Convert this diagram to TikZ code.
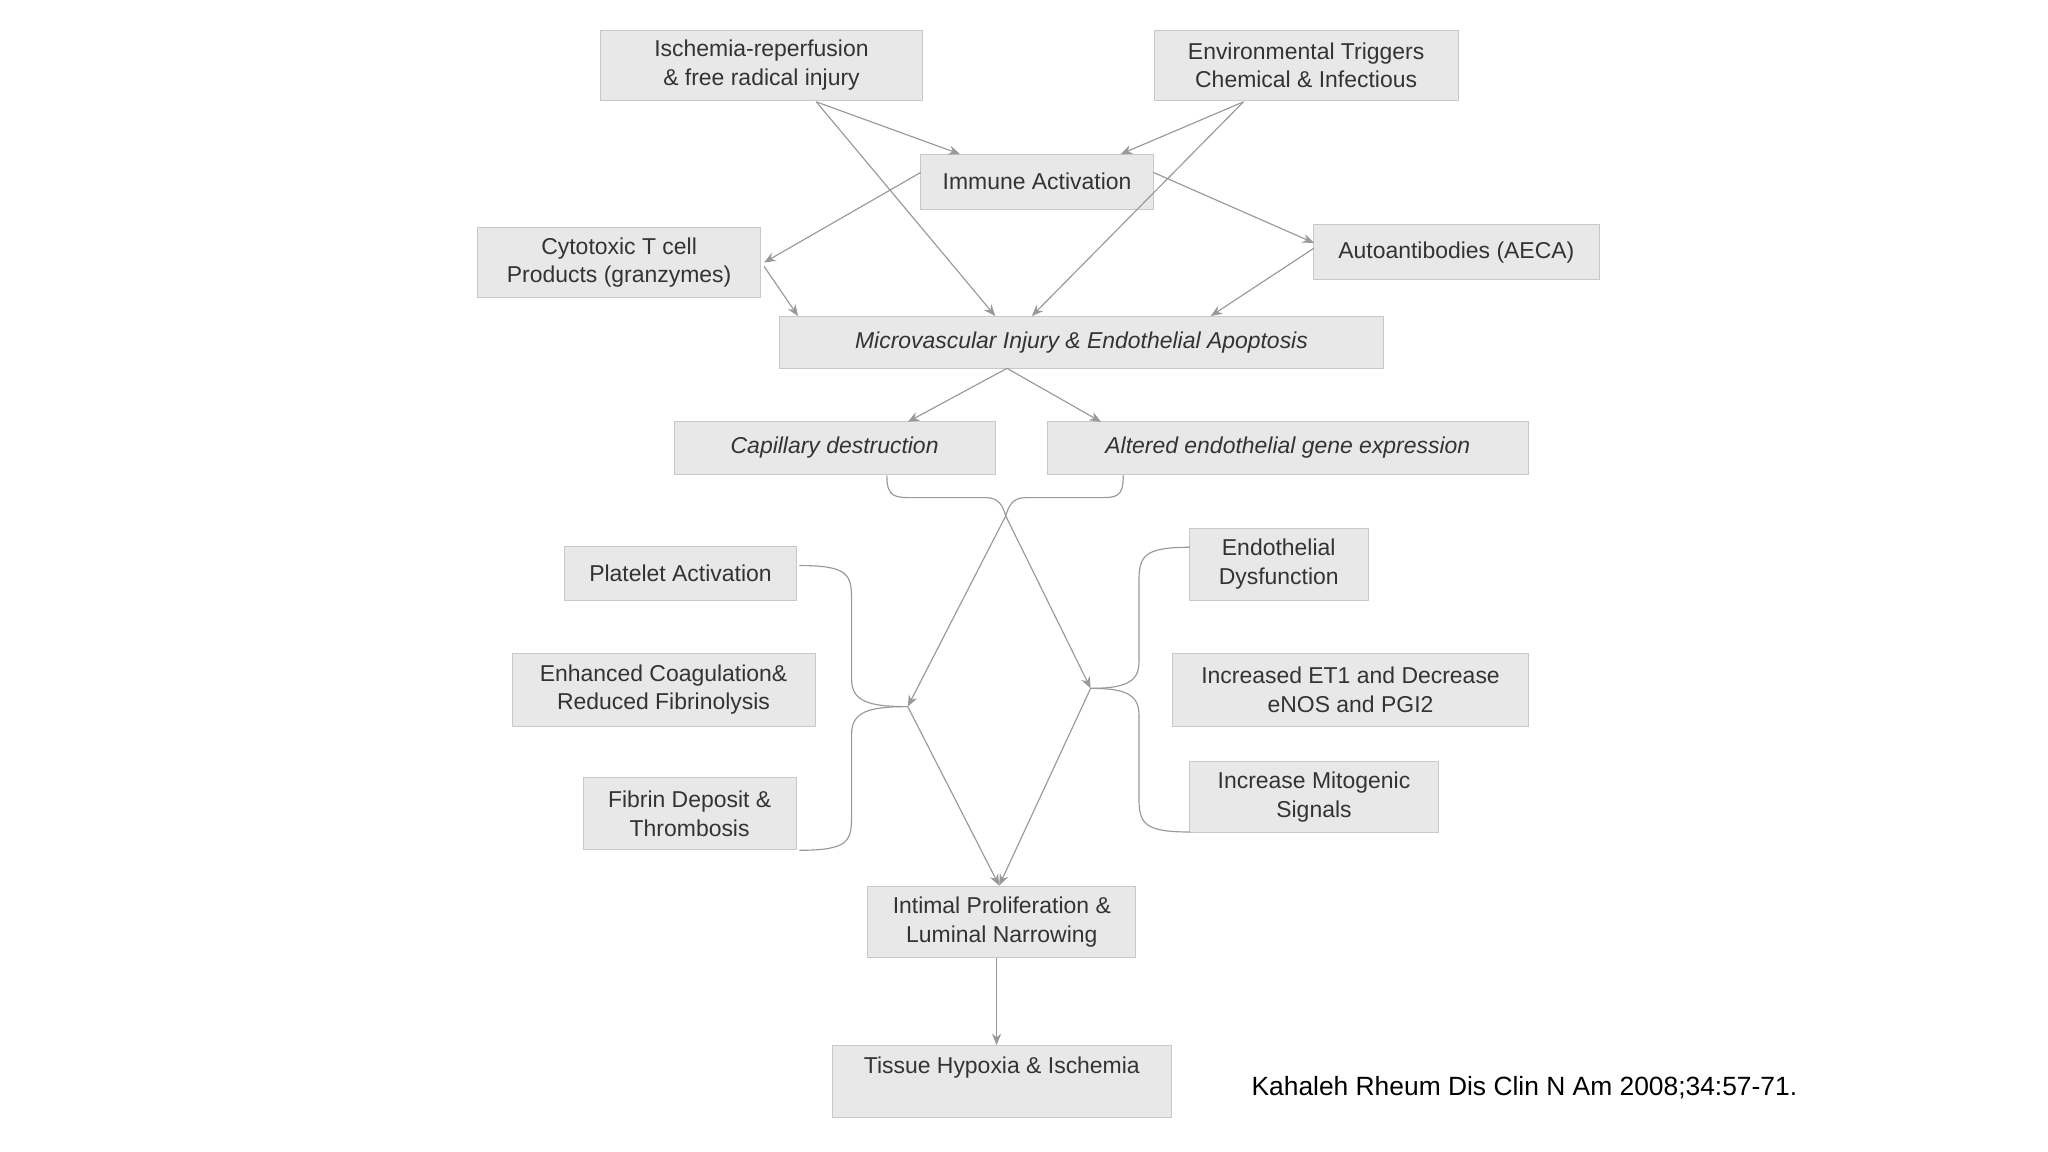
\documentclass[tikz,border=0pt]{standalone}
\usepackage{fontspec}
\setmainfont{Liberation Sans}
\usetikzlibrary{arrows.meta}
\definecolor{bfill}{HTML}{E8E8E8}
\definecolor{bline}{HTML}{C8C8C8}
\definecolor{txt}{HTML}{333333}
\definecolor{ln}{HTML}{999999}
\begin{document}
\begin{tikzpicture}[x=0.02cm,y=-0.02cm,
  box/.style={draw=bline,fill=bfill,align=center,inner sep=0pt,text=txt,font=\fontsize{10}{12.5}\selectfont},
  arr/.style={draw=ln,line width=0.5pt,-{Stealth[length=5pt,width=4pt]}},
  cn/.style={draw=ln,line width=0.5pt}]
\useasboundingbox (0,0) rectangle (1568,882);
\fill[white] (0,0) rectangle (1568,882);
\newcommand{\bx}[7]{\node[box,minimum width=#4*0.02cm,minimum height=#5*0.02cm,#6] (#1) at (#2,#3) {#7};}
\bx{isch}{583}{50}{246}{54}{}{Ischemia-reperfusion\\ \& free radical injury}
\bx{env}{1000}{50}{233}{54}{}{Environmental Triggers\\ Chemical \& Infectious}
\bx{imm}{794}{139}{178}{42}{}{Immune Activation}
\bx{cyto}{474}{201}{217}{54}{}{Cytotoxic T cell\\ Products (granzymes)}
\bx{auto}{1115}{193}{219}{42}{}{Autoantibodies (AECA)}
\bx{micro}{828}{262}{463}{40}{font=\fontsize{10}{12.5}\selectfont\itshape}{Microvascular Injury \& Endothelial Apoptosis}
\bx{cap}{639}{343}{246}{41}{font=\fontsize{10}{12.5}\selectfont\itshape}{Capillary destruction}
\bx{alt}{986}{343}{368}{41}{font=\fontsize{10}{12.5}\selectfont\itshape}{Altered endothelial gene expression}
\bx{plat}{521}{439}{178}{41}{}{Platelet Activation}
\bx{enh}{508}{528}{232}{56}{}{Enhanced Coagulation\&\\ Reduced Fibrinolysis}
\bx{fib}{528}{623}{163}{55}{}{Fibrin Deposit \&\\ Thrombosis}
\bx{endo}{979}{432}{137}{55}{}{Endothelial\\ Dysfunction}
\bx{inc}{1034}{528}{273}{56}{}{Increased ET1 and Decrease\\ eNOS and PGI2}
\bx{mito}{1006}{610}{191}{54}{}{Increase Mitogenic\\ Signals}
\bx{intim}{767}{706}{205}{54}{}{Intimal Proliferation \&\\ Luminal Narrowing}
\bx{tis}{767}{828}{260}{55}{}{}
\node[text=txt,font=\fontsize{10}{12.5}\selectfont] (tist) at (767,817) {Tissue Hypoxia \& Ischemia};
\node[font=\fontsize{11.5}{14}\selectfont,anchor=west] (cite) at (952,833) {Kahaleh Rheum Dis Clin N Am 2008;34:57-71.};
% coordinates
\coordinate (is) at (625,78); \coordinate (es) at (952,78);
\coordinate (i1) at (735,118); \coordinate (i2) at (858,118);
\coordinate (m1) at (762,242); \coordinate (m2) at (790,242);
\coordinate (iw) at (705,132); \coordinate (ie) at (883,132);
\coordinate (ce) at (585,201); \coordinate (ae) at (1006,186);
\coordinate (cs) at (585,204); \coordinate (mc) at (611,242);
\coordinate (as) at (1006,190); \coordinate (ma) at (927,242);
\coordinate (ms) at (771,282); \coordinate (cn1) at (695,323); \coordinate (an1) at (843,323);
\coordinate (bt) at (770,395); \coordinate (lt) at (695,541); \coordinate (rt) at (835,527);
\coordinate (it) at (765,678);
\draw[arr] (is) -- (i1); \draw[arr] (is) -- (m1);
\draw[arr] (es) -- (i2); \draw[arr] (es) -- (m2);
\draw[arr] (iw) -- (ce); \draw[arr] (ie) -- (ae);
\draw[arr] (cs) -- (mc); \draw[arr] (as) -- (ma);
\draw[arr] (ms) -- (cn1); \draw[arr] (ms) -- (an1);
% top brace
\draw[cn] (679,364) .. controls (679,381) and (685,381) .. (700,381) -- (755,381) .. controls (765,381) and (768,388) .. (bt);
\draw[cn] (860,364) .. controls (860,381) and (855,381) .. (840,381) -- (785,381) .. controls (775,381) and (772,388) .. (bt);
\draw[arr] (bt) -- (lt); \draw[arr] (bt) -- (rt);
% left brace
\draw[cn] (612,433) .. controls (650,433) and (652,440) .. (652,460) -- (652,520) .. controls (652,537) and (665,541) .. (lt);
\draw[cn] (612,651) .. controls (650,651) and (652,644) .. (652,624) -- (652,562) .. controls (652,545) and (665,541) .. (lt);
% right brace
\draw[cn] (911,419) .. controls (875,419) and (872,426) .. (872,446) -- (872,507) .. controls (872,523) and (860,527) .. (rt);
\draw[cn] (911,637) .. controls (875,637) and (872,630) .. (872,610) -- (872,547) .. controls (872,531) and (860,527) .. (rt);
\draw[arr] (lt) -- (it); \draw[arr] (rt) -- (it);
\draw[arr] (intim.south -| 763,0) -- (tis.north -| 763,0);
\end{tikzpicture}
\end{document}
